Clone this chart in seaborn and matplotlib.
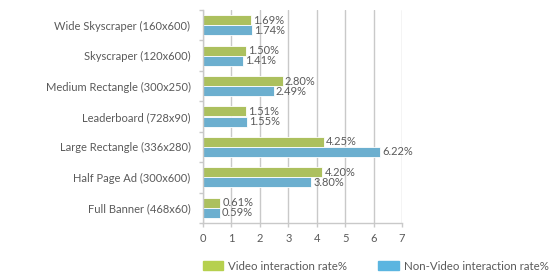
import matplotlib
matplotlib.use("Agg")
import matplotlib.pyplot as plt
import numpy as np
import pandas as pd
import seaborn as sns

categories = [
    "Wide Skyscraper (160x600)",
    "Skyscraper (120x600)",
    "Medium Rectangle (300x250)",
    "Leaderboard (728x90)",
    "Large Rectangle (336x280)",
    "Half Page Ad (300x600)",
    "Full Banner (468x60)",
]
video_rate = [1.69, 1.50, 2.80, 1.51, 4.25, 4.20, 0.61]
nonvideo_rate = [1.74, 1.41, 2.49, 1.55, 6.22, 3.80, 0.59]
series = ["Video interaction rate%", "Non-Video interaction rate%"]
x_ticks = [0, 1, 2, 3, 4, 5, 6, 7]

green = "#b6d04e"
blue = "#5bb5e0"
text_col = "#5a5a5a"
grid_col = "#c9c9c9"

# long format for seaborn
df = pd.DataFrame({
    "ad": categories * 2,
    "rate": video_rate + nonvideo_rate,
    "series": [series[0]] * len(categories) + [series[1]] * len(categories),
})

sns.set_theme(style="white")
plt.rcParams["font.family"] = ["Lato", "DejaVu Sans"]

fig = plt.figure(figsize=(5.5, 2.77), dpi=100)
ax = fig.add_axes([203 / 550, 1 - 223 / 277, 199 / 550, 213 / 277])

sns.barplot(data=df, y="ad", x="rate", hue="series", hue_order=series,
            order=categories, palette=[green, blue], orient="h",
            width=0.66, edgecolor="white", linewidth=0.6, ax=ax)

for cont in ax.containers:
    ax.bar_label(cont, labels=[f"{b.get_width():.2f}%" for b in cont],
                 padding=1.5, fontsize=8, color=text_col)

ax.set_xlim(0, 7)
ax.set_ylim(len(categories) - 0.5, -0.5)
ax.set_xticks(x_ticks)
ax.set_xticklabels([str(t) for t in x_ticks], fontsize=8, color=text_col)
ax.set_xlabel("")
ax.set_ylabel("")
ax.tick_params(axis="y", length=0, pad=9, labelsize=8, labelcolor=text_col)
ax.set_yticks(np.arange(len(categories) + 1) - 0.5, minor=True)
ax.tick_params(axis="y", which="minor", length=3, color=grid_col, width=1, left=True)
ax.tick_params(axis="x", length=3, color=grid_col, width=1, bottom=True, pad=4)

ax.grid(axis="x", color=grid_col, linewidth=1)
ax.set_axisbelow(True)
for s in ["top", "right"]:
    ax.spines[s].set_visible(False)
for s in ["left", "bottom"]:
    ax.spines[s].set_color(grid_col)
    ax.spines[s].set_linewidth(1)

ax.legend_.remove()
handles = [plt.Rectangle((0, 0), 1, 1, color=green), plt.Rectangle((0, 0), 1, 1, color=blue)]
fig.legend(handles, series, loc="center left", bbox_to_anchor=(203 / 550, 1 - 266 / 277),
           ncol=2, frameon=False, fontsize=8.3, handlelength=1.75, handleheight=0.75,
           handletextpad=0.45, columnspacing=2.7, labelcolor=text_col,
           borderpad=0, borderaxespad=0)

fig.savefig("out.png", dpi=100)
